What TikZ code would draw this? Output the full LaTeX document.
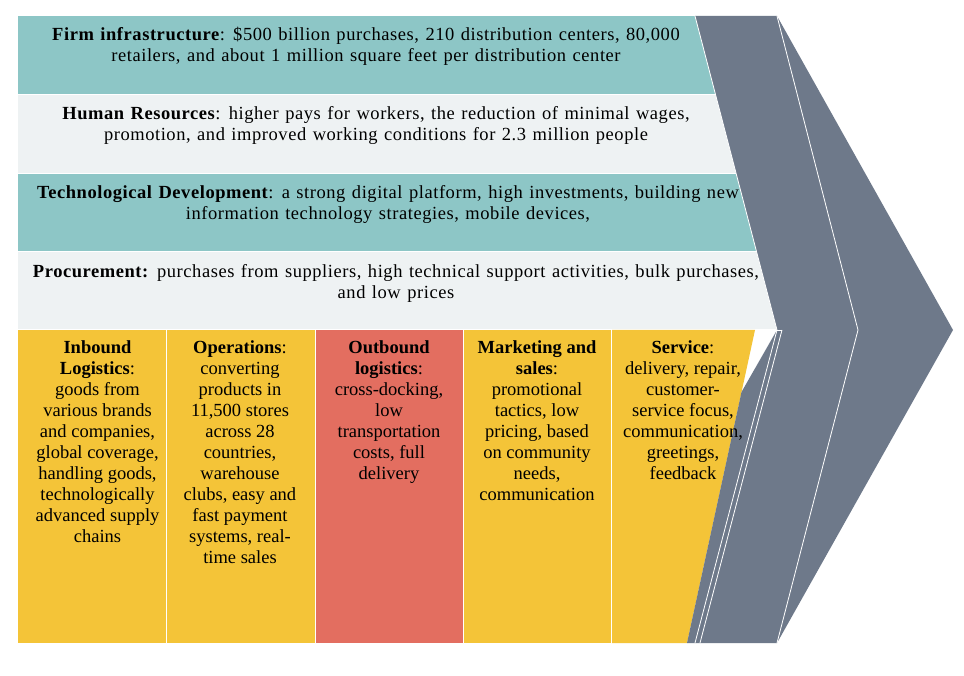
\documentclass[tikz,border=0pt]{standalone}
\usepackage{fontspec}
\setmainfont{Liberation Serif}
\newfontfamily\rowfont[LetterSpace=3,WordSpace=1.25]{Liberation Serif}
\definecolor{tealrow}{RGB}{141,198,198}
\definecolor{lightrow}{RGB}{238,242,243}
\definecolor{yelcol}{RGB}{244,196,56}
\definecolor{redcol}{RGB}{227,110,96}
\definecolor{slate}{RGB}{110,121,138}
\newcommand\mystrut{\rule{0pt}{14pt}}
\begin{document}
\begin{tikzpicture}[x=1pt,y=-1pt,
  txt/.style={align=center, anchor=north, inner sep=0pt, font=\fontsize{18.5}{21}\selectfont},
  rowtxt/.style={txt, font=\rowfont\fontsize{18.5}{21}\selectfont}]
\useasboundingbox (0,0) rectangle (964,676);
\fill[white] (0,0) rectangle (964,676);
% support rows
\begin{scope}
\clip (18,16) -- (695,16) -- (777,330) -- (18,330) -- cycle;
\fill[tealrow] (18,16) rectangle (800,94);
\fill[lightrow] (18,95) rectangle (800,173);
\fill[tealrow] (18,174) rectangle (800,251);
\fill[lightrow] (18,252) rectangle (800,329);
\end{scope}
% primary columns
\fill[yelcol] (18,330) rectangle (166,643);
\fill[yelcol] (167,330) rectangle (315,643);
\fill[redcol] (316,330) rectangle (463,643);
\fill[yelcol] (464,330) rectangle (611,643);
\fill[yelcol] (612,330) -- (755,330) -- (687,643) -- (612,643) -- cycle;
% chevrons
\fill[slate] (695,16) -- (777,16) -- (953,330) -- (777,643) -- (687,643) -- (741.5,392) -- (777,330) -- cycle;
\draw[white, line width=0.8pt] (695,16) -- (777,330);
\draw[white, line width=0.8pt] (777,16) -- (858,330) -- (777,643);
\draw[white, line width=0.8pt] (775,330) -- (782,330);
\draw[white, line width=0.8pt] (777,330) -- (695,643);
\draw[white, line width=0.8pt] (782,330) -- (700,643);
% texts
\node[rowtxt] (firm) at (366,26) {\mystrut\textbf{Firm infrastructure}: \$500 billion purchases, 210 distribution centers, 80,000\\retailers, and about 1 million square feet per distribution center};
\node[rowtxt] (hr) at (376,105) {\mystrut\textbf{Human Resources}: higher pays for workers, the reduction of minimal wages,\\promotion, and improved working conditions for 2.3 million people};
\node[rowtxt] (tech) at (388,184) {\mystrut\textbf{Technological Development}: a strong digital platform, high investments, building new\\information technology strategies, mobile devices,};
\node[rowtxt] (proc) at (396,263) {\mystrut\textbf{Procurement:} purchases from suppliers, high technical support activities, bulk purchases,\\and low prices};
\node[txt] (inb) at (97.5,339) {\mystrut\textbf{Inbound}\\\textbf{Logistics}:\\goods from\\various brands\\and companies,\\global coverage,\\handling goods,\\technologically\\advanced supply\\chains};
\node[txt] (ops) at (240,339) {\mystrut\textbf{Operations}:\\converting\\products in\\11,500 stores\\across 28\\countries,\\warehouse\\clubs, easy and\\fast payment\\systems, real-\\time sales};
\node[txt] (outb) at (389,339) {\mystrut\textbf{Outbound}\\\textbf{logistics}:\\cross-docking,\\low\\transportation\\costs, full\\delivery};
\node[txt] (mkt) at (537,339) {\mystrut\textbf{Marketing and}\\\textbf{sales}:\\promotional\\tactics, low\\pricing, based\\on community\\needs,\\communication};
\node[txt] (serv) at (683,339) {\mystrut\textbf{Service}:\\delivery, repair,\\customer-\\service focus,\\communication,\\greetings,\\feedback};
\end{tikzpicture}
\end{document}
